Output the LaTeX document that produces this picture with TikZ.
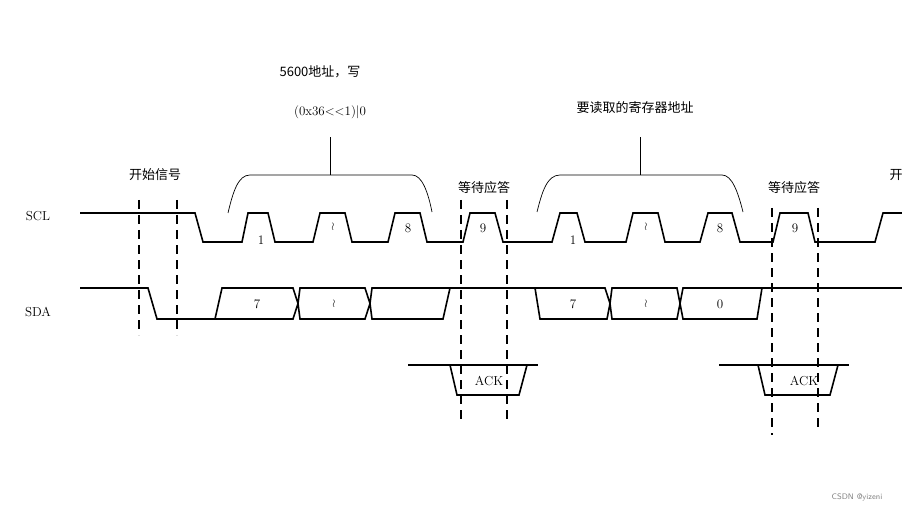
\documentclass[tikz,border=0pt]{standalone}
\usepackage{fontspec}
\newfontfamily\cjk{Noto Sans CJK SC}
\begin{document}
\begin{tikzpicture}[x=1pt,y=-1pt,
  wave/.style={line width=1.6pt,line join=miter},
  dline/.style={line width=1.6pt,dash pattern=on 9pt off 6pt},
  brace/.style={line width=0.7pt},
  lbl/.style={font=\fontsize{13}{13}\selectfont},
  cjkl/.style={font=\cjk\fontsize{13}{13}\selectfont},
  small/.style={font=\fontsize{11}{11}\selectfont}]
\useasboundingbox (0,0) rectangle (902,513);
% SCL
\draw[wave] (80,213) -- (195,213) -- (203,242) -- (242,242) -- (248,213) -- (268,213) -- (275,242) -- (313,242) -- (320,213) -- (345,213) -- (352,242) -- (388,242) -- (395,213) -- (420,213) -- (427,242) -- (463,242) -- (470,213) -- (495,213) -- (503,242) -- (552,242) -- (560,213) -- (577,213) -- (585,242) -- (626,242) -- (633,213) -- (658,213) -- (665,242) -- (700,242) -- (708,213) -- (732,213) -- (740,242) -- (773,242) -- (780,213) -- (808,213) -- (815,242) -- (875,242) -- (883,213) -- (902,213);
% SDA
\draw[wave] (80,288) -- (148,288) -- (157,319) -- (215,319) -- (222,288) -- (293,288) -- (298,303.5) -- (300,288) -- (365,288) -- (370,303.5) -- (372,288) -- (450,288) -- (443,319) -- (372,319) -- (370,303.5) -- (365,319) -- (300,319) -- (298,303.5) -- (293,319) -- (215,319);
\draw[wave] (450,288) -- (535,288) -- (540,319) -- (607,319) -- (610,303.5) -- (612,319) -- (677,319) -- (680,303.5) -- (683,319) -- (757,319) -- (762,288) -- (683,288) -- (680,303.5) -- (677,288) -- (612,288) -- (610,303.5) -- (605,288) -- (535,288);
\draw[wave] (762,288) -- (902,288);
% ACK
\draw[wave] (408,365) -- (538,365);
\draw[wave] (450,365) -- (457,395) -- (519,395) -- (527,365);
\draw[wave] (719,365) -- (849,365);
\draw[wave] (758,365) -- (765,395) -- (830,395) -- (838,365);
% dashed
\draw[dline] (139,200) -- (139,335);
\draw[dline] (177,200) -- (177,335);
\draw[dline] (461,200) -- (461,423);
\draw[dline] (507,200) -- (507,423);
\draw[dline] (772,208) -- (772,435);
\draw[dline] (818,208) -- (818,430);
% braces
\draw[brace] (228,213) .. controls (233,192) and (238,175) .. (250,175) -- (412,175) .. controls (422,175) and (428,192) .. (432,212);
\draw[brace] (330,175) -- (330,137);
\draw[brace] (537,212) .. controls (542,192) and (547,175) .. (560,175) -- (722,175) .. controls (732,175) and (738,192) .. (743,212);
\draw[brace] (640,175) -- (640,137);
% texts
\node[cjkl] (t1) at (320,72) {5600地址，写};
\node[lbl] (t2) at (330,112) {(0x36<{}<1)|0};
\node[cjkl] (t3) at (635,108) {要读取的寄存器地址};
\node[cjkl] (t4) at (155,175) {开始信号};
\node[cjkl] (t5) at (484,188) {等待应答};
\node[cjkl] (t6) at (794,188) {等待应答};
\node[cjkl,anchor=west] (t7) at (886,175) {开};
\node[lbl] (scl) at (38,216) {SCL};
\node[lbl] (sda) at (38,312) {SDA};
\node[lbl] (c1) at (261,240) {1};
\node[small] (c2) at (333,227) {$\wr$};
\node[lbl] (c3) at (408,228) {8};
\node[lbl] (c4) at (483,228) {9};
\node[lbl] (c5) at (573,240) {1};
\node[small] (c6) at (646,227) {$\wr$};
\node[lbl] (c7) at (720,228) {8};
\node[lbl] (c8) at (795,228) {9};
\node[lbl] (d1) at (257,304) {7};
\node[small] (d2) at (334,304) {$\wr$};
\node[lbl] (d3) at (573,304) {7};
\node[small] (d4) at (646,304) {$\wr$};
\node[lbl] (d5) at (720,304) {0};
\node[lbl] (a1) at (489,381) {ACK};
\node[lbl] (a2) at (804,381) {ACK};
\node[font=\sffamily\fontsize{8}{8}\selectfont,text=gray] (wm) at (857,497) {CSDN @yizeni};
\end{tikzpicture}
\end{document}
